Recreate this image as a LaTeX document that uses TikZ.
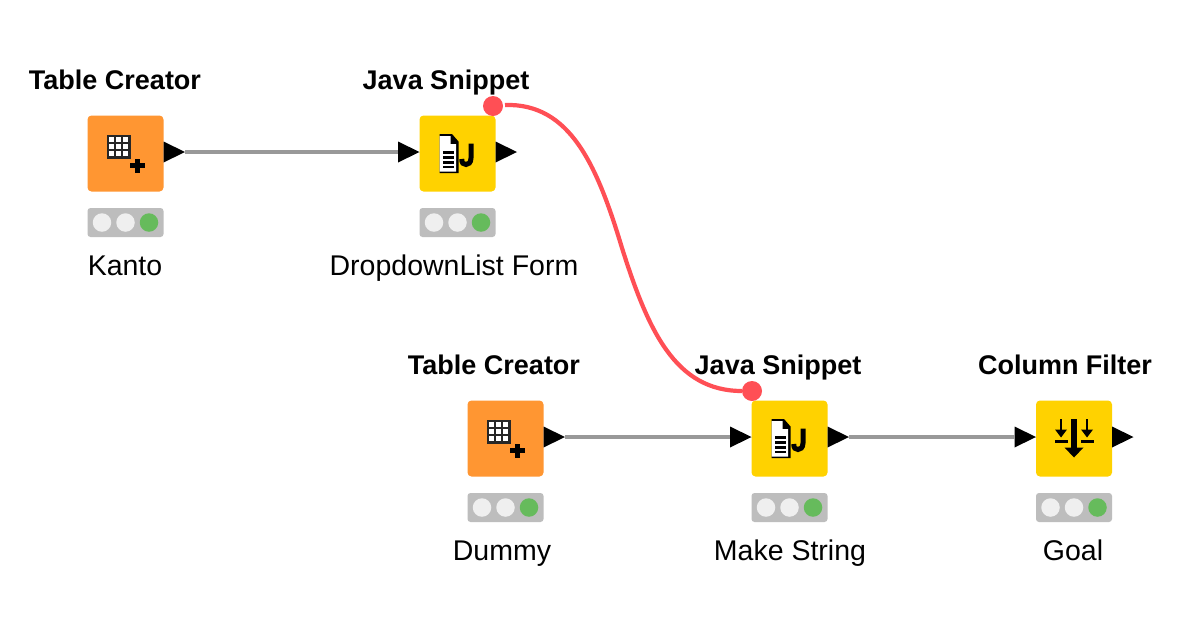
\documentclass[tikz,border=0pt]{standalone}
\usepackage{fontspec}
\setmainfont{Liberation Sans}
\definecolor{orangeN}{HTML}{FF9632}
\definecolor{yellowN}{HTML}{FFD200}
\definecolor{statusN}{HTML}{BDBDBD}
\definecolor{offN}{HTML}{EFEFEF}
\definecolor{greenN}{HTML}{66BB5C}
\definecolor{redN}{HTML}{FF4F55}
\definecolor{wireN}{HTML}{999999}
\tikzset{
  nodebox/.style={inner sep=0pt,outer sep=0pt,minimum size=76pt,rounded corners=4pt},
  statbox/.style={inner sep=0pt,outer sep=0pt,minimum width=76pt,minimum height=29pt,rounded corners=3pt,fill=statusN},
  lamp/.style={circle,inner sep=0pt,outer sep=0pt,minimum size=18.5pt,fill=#1},
  titletext/.style={font=\fontsize{27}{30}\selectfont\bfseries,inner sep=0pt,anchor=base},
  labeltext/.style={font=\fontsize{28.5}{32}\selectfont,inner sep=0pt,anchor=base},
  porttri/.style={fill=black,draw=none},
  wire/.style={draw=wireN,line width=4.4pt},
  varwire/.style={draw=redN,line width=4.2pt},
  vardot/.style={circle,inner sep=0pt,outer sep=0pt,minimum size=20pt,fill=redN},
}
% name, cx, cy, colour, title, title x, label, label x
\newcommand{\kbox}[8]{%
  \node[nodebox,fill=#4] (#1) at (#2,#3) {};
  \node[statbox] (#1s) at (#2,#3+69) {};
  \node[lamp=offN] (#1a) at (#2-23.5,#3+69) {};
  \node[lamp=offN] (#1b) at (#2,#3+69) {};
  \node[lamp=greenN] (#1c) at (#2+23.5,#3+69) {};
  \node[titletext] (#1t) at (#6,#3-64.5) {#5};
  \node[labeltext] (#1l) at (#8,#3+121.5) {#7};
}
\newcommand{\outport}[3]{%
  \coordinate (#1) at (#2+59.5,#3-1.5);
  \fill[porttri] (#2+38,#3-12) -- (#2+59.5,#3-1.5) -- (#2+38,#3+9) -- cycle;
}
\newcommand{\inport}[3]{%
  \coordinate (#1) at (#2-59.5,#3-1.5);
  \fill[porttri] (#2-59.5,#3-12) -- (#2-38,#3-1.5) -- (#2-59.5,#3+9) -- cycle;
}
\newcommand{\tableicon}[2]{%
  \begin{scope}[shift={(#1,#2)}]
    \fill[black!85] (-19,-18.5) rectangle (5,5.5);
    \foreach \i in {0,1,2}{\foreach \j in {0,1,2}{
      \fill[white] (-16.8+7.1*\i,-16.3+7.1*\j) rectangle ++(5,5);}}
    \fill[black] (4.5,9.5) rectangle (19,14.5);
    \fill[black] (9.5,5) rectangle (14.5,19);
  \end{scope}}
\newcommand{\javaicon}[2]{%
  \begin{scope}[shift={(#1,#2)}]
    \fill[black] (-18,-19.5) -- (-5.5,-19.5) -- (1,-12) -- (1,19.5) -- (-18,19.5) -- cycle;
    \fill[white] (-18,-17.5) -- (-7,-17.5) -- (-7,-9.5) -- (-1.5,-9.5) -- (-1.5,18) -- (-18,18) -- cycle;
    \foreach \d in {-1,4,9,13.5}{\fill[black] (-15,\d-1.3) rectangle (-3.5,\d+1.3);}
    \draw[black,line width=5pt] (13.5,-10) -- (13.5,4.5) .. controls (13.5,9.5) and (10.5,11) .. (8.5,11) .. controls (6,11) and (4.2,9.5) .. (4.2,5.5);
  \end{scope}}
\newcommand{\filtericon}[2]{%
  \begin{scope}[shift={(#1,#2)}]
    \fill[black] (-2.6,-19.5) rectangle (2.6,10);
    \fill[black] (-9.5,9) -- (9.5,9) -- (0,19) -- cycle;
    \foreach \s in {-13,13}{
      \fill[black] (\s-1.4,-19.5) rectangle (\s+1.4,-8);
      \fill[black] (\s-6,-9) -- (\s+6,-9) -- (\s,-1) -- cycle;
      \fill[black] (\s-6.5,1.8) rectangle (\s+6.5,4.4);}
  \end{scope}}
\begin{document}
\begin{tikzpicture}[x=1pt,y=-1pt]
\useasboundingbox (0,0) rectangle (1200,630);
\fill[white] (0,0) rectangle (1200,630);
\kbox{tca}{125.5}{153.5}{orangeN}{Table Creator}{115}{Kanto}{125}
\kbox{jsa}{457.5}{153.5}{yellowN}{Java Snippet}{446}{DropdownList Form}{454}
\kbox{tcb}{505.5}{438.5}{orangeN}{Table Creator}{494}{Dummy}{502}
\kbox{jsb}{789.5}{438.5}{yellowN}{Java Snippet}{778}{Make String}{790}
\kbox{cf}{1074}{438.5}{yellowN}{Column Filter}{1065}{Goal}{1073}
\tableicon{125.5}{153.5}
\tableicon{505.5}{438.5}
\javaicon{457.5}{153.5}
\javaicon{789.5}{438.5}
\filtericon{1074}{438.5}
\outport{tcaout}{125.5}{153.5}
\inport{jsain}{457.5}{153.5}
\outport{jsaout}{457.5}{153.5}
\outport{tcbout}{505.5}{438.5}
\inport{jsbin}{789.5}{438.5}
\outport{jsbout}{789.5}{438.5}
\inport{cfin}{1074}{438.5}
\outport{cfout}{1074}{438.5}
\draw[wire] (tcaout) -- (jsain);
\draw[wire] (tcbout) -- (jsbin);
\draw[wire] (jsbout) -- (cfin);
\node[vardot] (vo) at (493,106) {};
\node[vardot] (vi) at (752,391) {};
\coordinate (vos) at (505,105);
\coordinate (vmid) at (622,248);
\draw[varwire] (vos) .. controls (570,103) and (597,165) .. (vmid) .. controls (648,330) and (675,391) .. (vi);
\end{tikzpicture}
\end{document}
